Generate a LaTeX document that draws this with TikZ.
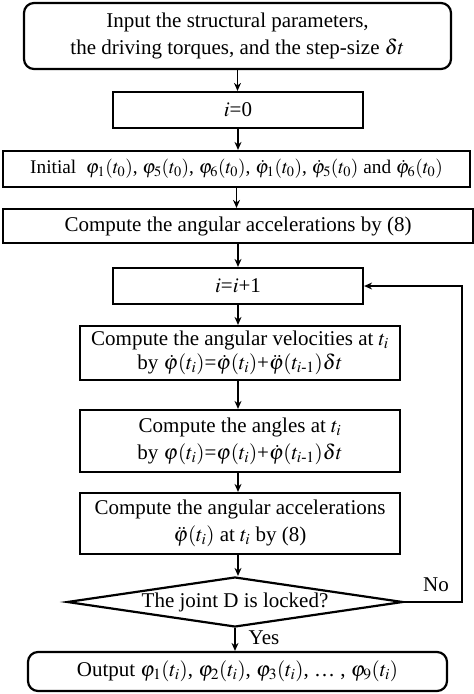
\documentclass[tikz,border=0pt]{standalone}
\usepackage{amsmath}
\usepackage{mathptmx}
\usepackage{fontspec}
\setmainfont{Liberation Serif}
\usetikzlibrary{arrows.meta,shapes.geometric}

\begin{document}
\begin{tikzpicture}[x=1pt, y=-1pt, >={Stealth[length=8pt,width=7pt]},
	box/.style={draw, line width=2.2pt, align=center, inner sep=0pt,
		font=\fontsize{21}{27}\selectfont},
	rbox/.style={box, rounded corners=10pt},
	decide/.style={box, diamond, aspect=6.7},
	line/.style={->, line width=1.6pt},
	tag/.style={font=\fontsize{21}{27}\selectfont}]
	\useasboundingbox (0,0) rectangle (474,694);
	
	% Cac buoc tinh
	\node[rbox, minimum width=427pt, minimum height=66pt] (input) at (237.5,36)
		{Input the structural parameters,\\ the driving torques, and the step-size $\delta t$};
	\node[box, minimum width=250pt, minimum height=36pt] (start) at (238,110) {$i$=0};
	\node[box, minimum width=467pt, minimum height=36pt, font=\fontsize{19.3}{27}\selectfont] (initial) at (236.5,169)
		{Initial \ $\varphi_1(t_0)$, $\varphi_5(t_0)$, $\varphi_6(t_0)$, $\dot\varphi_1(t_0)$, $\dot\varphi_5(t_0)$ and $\dot\varphi_6(t_0)$};
	\node[box, minimum width=470pt, minimum height=34pt] (accfirst) at (238,226)
		{Compute the angular accelerations by (8)};
	\node[box, minimum width=250pt, minimum height=36pt] (incr) at (238,286) {$i$=$i$+1};
	\node[box, minimum width=320pt, minimum height=54pt] (vel) at (240,353)
		{Compute the angular velocities at $t_i$\\[-3pt] by $\dot\varphi(t_i)$=$\dot\varphi(t_i)$+$\ddot\varphi(t_{i\text{-}1})\delta t$};
	\node[box, minimum width=320pt, minimum height=62pt] (angle) at (240,441)
		{Compute the angles at $t_i$\\ by $\varphi(t_i)$=$\varphi(t_i)$+$\dot\varphi(t_{i\text{-}1})\delta t$};
	\node[box, minimum width=320pt, minimum height=61pt] (acc) at (240,523.5)
		{Compute the angular accelerations\\ $\ddot\varphi(t_i)$ at $t_i$ by (8)};
	
	% Kiem tra
	\node[decide, minimum width=336pt, minimum height=50pt] (lock) at (235,602) {The joint D is locked?};
	\node[rbox, minimum width=419pt, minimum height=39pt] (output) at (237.5,671.5)
		{Output $\varphi_1(t_i)$, $\varphi_2(t_i)$, $\varphi_3(t_i)$, \dots\ , $\varphi_9(t_i)$};
	
	% Mui ten
	\draw[line] (input.south) -- (input.south |- start.north);
	\draw[line] (start.south) -- (start.south |- initial.north);
	\draw[line] (initial.south) -- (initial.south |- accfirst.north);
	\draw[line] (accfirst.south) -- (accfirst.south |- incr.north);
	\draw[line] (incr.south) -- (incr.south |- vel.north);
	\draw[line] (incr.south |- vel.south) -- (incr.south |- angle.north);
	\draw[line] (incr.south |- angle.south) -- (incr.south |- acc.north);
	\draw[line] (incr.south |- acc.south) -- (incr.south |- lock.north);
	\draw[line] (lock.south) -- (lock.south |- output.north);
	
	% Vong lap
	\coordinate (back) at (462,602);
	\draw[line] (lock.east) -- (back) |- (incr.east);
	
	% Nhan
	\node[tag] (no) at (436,585) {No};
	\node[tag] (yes) at (264,638) {Yes};
\end{tikzpicture}
\end{document}
